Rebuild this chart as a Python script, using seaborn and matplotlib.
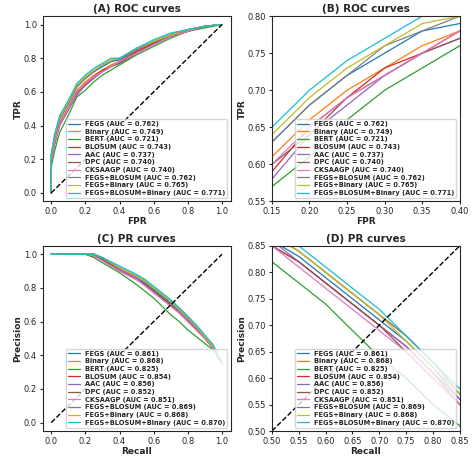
import matplotlib
matplotlib.use("Agg")
import matplotlib.pyplot as plt
import seaborn as sns
import pandas as pd

sns.set_style("ticks")
plt.rcParams['font.family'] = ['DejaVu Sans']

names = ["FEGS", "Binary", "BERT", "BLOSUM", "AAC", "DPC", "CKSAAGP",
         "FEGS+BLOSUM", "FEGS+Binary", "FEGS+BLOSUM+Binary"]
roc_auc = [0.762, 0.749, 0.721, 0.743, 0.737, 0.740, 0.740, 0.762, 0.765, 0.771]
pr_auc = [0.861, 0.868, 0.825, 0.854, 0.856, 0.852, 0.851, 0.869, 0.868, 0.870]
colors = ["#1f77b4", "#ff7f0e", "#2ca02c", "#d62728", "#9467bd", "#8c564b",
          "#e377c2", "#7f7f7f", "#bcbd22", "#17becf"]

fpr = [0, 0, 0.02, 0.05, 0.1, 0.15, 0.2, 0.25, 0.3, 0.35, 0.4, 0.5, 0.6, 0.7, 0.8, 0.9, 1.0]
tpr = {
 "FEGS":               [0, 0.22, 0.33, 0.44, 0.53, 0.63, 0.68, 0.72, 0.75, 0.78, 0.79, 0.85, 0.90, 0.94, 0.97, 0.99, 1.0],
 "Binary":             [0, 0.20, 0.30, 0.42, 0.51, 0.61, 0.66, 0.70, 0.73, 0.76, 0.78, 0.84, 0.89, 0.93, 0.96, 0.99, 1.0],
 "BERT":               [0, 0.15, 0.25, 0.36, 0.46, 0.57, 0.61, 0.66, 0.70, 0.73, 0.76, 0.82, 0.87, 0.92, 0.96, 0.98, 1.0],
 "BLOSUM":             [0, 0.19, 0.30, 0.41, 0.50, 0.59, 0.65, 0.69, 0.73, 0.75, 0.78, 0.84, 0.89, 0.93, 0.96, 0.99, 1.0],
 "AAC":                [0, 0.18, 0.29, 0.40, 0.49, 0.58, 0.64, 0.68, 0.72, 0.75, 0.77, 0.83, 0.88, 0.93, 0.96, 0.99, 1.0],
 "DPC":                [0, 0.19, 0.29, 0.41, 0.50, 0.60, 0.64, 0.69, 0.72, 0.75, 0.77, 0.83, 0.89, 0.93, 0.96, 0.99, 1.0],
 "CKSAAGP":            [0, 0.18, 0.30, 0.41, 0.50, 0.60, 0.65, 0.69, 0.72, 0.75, 0.78, 0.83, 0.88, 0.93, 0.96, 0.99, 1.0],
 "FEGS+BLOSUM":        [0, 0.22, 0.33, 0.44, 0.53, 0.63, 0.68, 0.72, 0.76, 0.78, 0.80, 0.85, 0.90, 0.94, 0.97, 0.99, 1.0],
 "FEGS+Binary":        [0, 0.22, 0.34, 0.45, 0.54, 0.64, 0.69, 0.73, 0.76, 0.79, 0.80, 0.86, 0.90, 0.94, 0.97, 0.99, 1.0],
 "FEGS+BLOSUM+Binary": [0, 0.23, 0.35, 0.46, 0.55, 0.65, 0.70, 0.74, 0.77, 0.80, 0.80, 0.86, 0.91, 0.95, 0.97, 0.99, 1.0],
}
recall = [0, 0.1, 0.2, 0.25, 0.3, 0.4, 0.5, 0.55, 0.6, 0.65, 0.7, 0.75, 0.8, 0.85, 0.9, 0.95, 1.0]
precision = {
 "FEGS":               [1.0, 1.0, 1.0, 1.0, 0.97, 0.91, 0.86, 0.83, 0.79, 0.75, 0.71, 0.67, 0.62, 0.56, 0.50, 0.45, 0.35],
 "Binary":             [1.0, 1.0, 1.0, 1.0, 0.98, 0.92, 0.87, 0.84, 0.80, 0.76, 0.72, 0.68, 0.63, 0.57, 0.51, 0.45, 0.35],
 "BERT":               [1.0, 1.0, 1.0, 0.98, 0.95, 0.89, 0.82, 0.78, 0.74, 0.69, 0.64, 0.60, 0.55, 0.51, 0.47, 0.43, 0.35],
 "BLOSUM":             [1.0, 1.0, 1.0, 0.99, 0.97, 0.91, 0.85, 0.82, 0.78, 0.74, 0.70, 0.66, 0.61, 0.55, 0.50, 0.44, 0.35],
 "AAC":                [1.0, 1.0, 1.0, 1.0, 0.97, 0.91, 0.86, 0.82, 0.78, 0.74, 0.70, 0.66, 0.61, 0.56, 0.50, 0.44, 0.35],
 "DPC":                [1.0, 1.0, 1.0, 0.99, 0.97, 0.90, 0.85, 0.82, 0.78, 0.74, 0.70, 0.65, 0.60, 0.55, 0.50, 0.44, 0.35],
 "CKSAAGP":            [1.0, 1.0, 1.0, 0.99, 0.96, 0.90, 0.85, 0.81, 0.77, 0.73, 0.69, 0.65, 0.60, 0.55, 0.50, 0.44, 0.35],
 "FEGS+BLOSUM":        [1.0, 1.0, 1.0, 1.0, 0.98, 0.92, 0.87, 0.84, 0.80, 0.76, 0.72, 0.68, 0.63, 0.57, 0.51, 0.45, 0.35],
 "FEGS+Binary":        [1.0, 1.0, 1.0, 1.0, 0.98, 0.92, 0.87, 0.84, 0.80, 0.76, 0.72, 0.67, 0.62, 0.57, 0.51, 0.45, 0.35],
 "FEGS+BLOSUM+Binary": [1.0, 1.0, 1.0, 1.0, 0.98, 0.93, 0.88, 0.85, 0.81, 0.77, 0.73, 0.68, 0.63, 0.58, 0.52, 0.46, 0.35],
}

fig, axes = plt.subplots(2, 2, figsize=(4.74, 4.61), dpi=100)
bold = dict(fontweight="bold", fontsize=6.5)

def draw(ax, kind, title, xlim, ylim, xticks, yticks, fmt):
    for n, c, ra, pa in zip(names, colors, roc_auc, pr_auc):
        if kind == "roc":
            df = pd.DataFrame({"x": fpr, "y": tpr[n]})
            lab = f"{n} (AUC = {ra:.3f})"
        else:
            df = pd.DataFrame({"x": recall, "y": precision[n]})
            lab = f"{n} (AUC = {pa:.3f})"
        sns.lineplot(data=df, x="x", y="y", ax=ax, color=c, lw=0.9, label=lab,
                     estimator=None, sort=False)
    ax.plot([0, 1], [0, 1], "k--", lw=1)
    ax.set_xlim(*xlim); ax.set_ylim(*ylim)
    ax.set_xticks(xticks); ax.set_yticks(yticks)
    ax.xaxis.set_major_formatter(matplotlib.ticker.FormatStrFormatter(fmt))
    ax.yaxis.set_major_formatter(matplotlib.ticker.FormatStrFormatter(fmt))
    ax.tick_params(labelsize=6, length=2.5, pad=1.5)
    ax.set_title(title, fontweight="bold", fontsize=7.5, pad=3)
    if kind == "roc":
        ax.set_xlabel("FPR", **bold); ax.set_ylabel("TPR", **bold)
    else:
        ax.set_xlabel("Recall", **bold); ax.set_ylabel("Precision", **bold)
    ax.xaxis.labelpad = 1; ax.yaxis.labelpad = 1
    ax.legend(loc="lower right", prop=dict(size=4.8, weight="bold"),
              handlelength=1.8, labelspacing=0.25, borderpad=0.3, framealpha=0.8)

draw(axes[0, 0], "roc", "(A) ROC curves", (-0.05, 1.05), (-0.05, 1.05),
     [0, 0.2, 0.4, 0.6, 0.8, 1.0], [0, 0.2, 0.4, 0.6, 0.8, 1.0], "%.1f")
draw(axes[0, 1], "roc", "(B) ROC curves", (0.15, 0.40), (0.55, 0.80),
     [0.15, 0.20, 0.25, 0.30, 0.35, 0.40], [0.55, 0.60, 0.65, 0.70, 0.75, 0.80], "%.2f")
draw(axes[1, 0], "pr", "(C) PR curves", (-0.05, 1.05), (-0.05, 1.05),
     [0, 0.2, 0.4, 0.6, 0.8, 1.0], [0, 0.2, 0.4, 0.6, 0.8, 1.0], "%.1f")
draw(axes[1, 1], "pr", "(D) PR curves", (0.50, 0.85), (0.50, 0.85),
     [0.50, 0.55, 0.60, 0.65, 0.70, 0.75, 0.80, 0.85],
     [0.50, 0.55, 0.60, 0.65, 0.70, 0.75, 0.80, 0.85], "%.2f")

plt.subplots_adjust(left=0.09, right=0.97, top=0.965, bottom=0.065, wspace=0.22, hspace=0.24)
fig.savefig("out.png", dpi=100)
